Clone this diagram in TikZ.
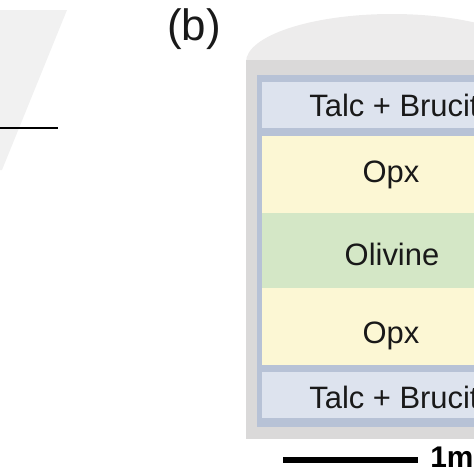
\documentclass[tikz,border=0pt]{standalone}
\usepackage{fontspec}
\setmainfont{Liberation Sans}
\usepackage{xcolor}
\usetikzlibrary{calc,positioning}
\definecolor{ghost}{HTML}{F1F1F1}
\definecolor{capgray}{HTML}{EDECEC}
\definecolor{cellgray}{HTML}{DAD9D9}
\definecolor{sleeve}{HTML}{B7C2D6}
\definecolor{talcfill}{HTML}{DDE3EE}
\definecolor{opxfill}{HTML}{FCF7D4}
\definecolor{olfill}{HTML}{D4E7C6}
\tikzset{
  layertext/.style={anchor=base,inner sep=0pt,text=black!90,
    font=\fontsize{17.6}{19}\selectfont},
  paneltext/.style={anchor=base west,inner sep=0pt,text=black!90,
    font=\fontsize{25}{27}\selectfont},
  scaletext/.style={anchor=base west,inner sep=0pt,text=black,
    font=\fontsize{17}{19}\selectfont\bfseries},
}

\begin{document}
\begin{tikzpicture}[x=0.02cm,y=-0.02cm]
\useasboundingbox (0,0) rectangle (474,474);
\clip (0,0) rectangle (474,474);

% panel (a), cut off at the left
\fill[ghost] (0,10) -- (67,10) -- (2,170) -- (0,170) -- cycle;
\coordinate (a1) at (0,128);
\coordinate (a2) at (58,128);
\draw[line width=1.4pt] (a1) -- (a2);

\node[paneltext] (panelB) at (167,40) {(b)};

% capsule
\fill[capgray] (246,62) .. controls (246,36) and (311,14) .. (392,14)
      .. controls (473,14) and (538,36) .. (538,62) -- cycle;
\fill[cellgray] (246,60) rectangle (538,439);
\fill[sleeve] (257,75) rectangle (527,427);

% layers
\fill[talcfill] (262,82) rectangle (522,128);
\fill[opxfill] (262,136) rectangle (522,213);
\fill[olfill] (262,213) rectangle (522,288);
\fill[opxfill] (262,288) rectangle (522,365);
\fill[talcfill] (262,372) rectangle (522,418);

\node[layertext,anchor=base west] (talcTop) at (309,116) {Talc + Brucite};
\node[layertext] (opxTop) at (391,182) {Opx};
\node[layertext] (olivine) at (392,265) {Olivine};
\node[layertext] (opxBot) at (391,343) {Opx};
\node[layertext,anchor=base west] (talcBot) at (309,408) {Talc + Brucite};

% scale bar
\coordinate (sL) at (283,460);
\coordinate (sR) at (418,460);
\draw[line width=3.4pt] (sL) -- (sR);
\node[scaletext] (scaleTxt) at (430,467) {1mm};
\end{tikzpicture}
\end{document}
